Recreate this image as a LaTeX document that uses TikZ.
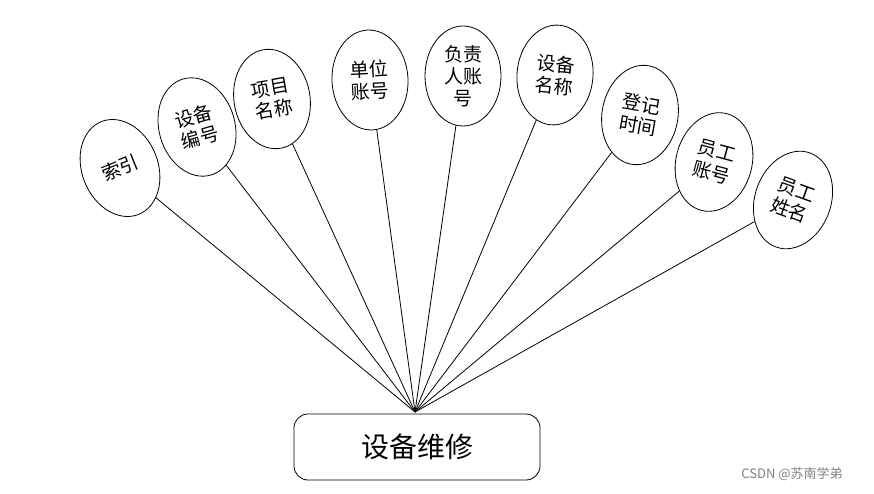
\documentclass[tikz,border=0pt]{standalone}
\usepackage{fontspec}
\newfontfamily\cjk{Noto Sans CJK SC}
\usetikzlibrary{shapes.geometric}
\tikzstyle{attr} = [draw, thick, ellipse, fill=white, minimum width=76pt, minimum height=100pt, inner sep=0pt, text width=44pt, align=center, font=\cjk\fontsize{19}{22}\selectfont]
\begin{document}
\begin{tikzpicture}[x=1pt, y=-1pt]
\useasboundingbox (0,0) rectangle (874,494);
\coordinate (hub) at (415,412);
\node[draw, thick, rounded corners=14pt, minimum width=246pt, minimum height=66pt, font=\cjk\fontsize{28}{30}\selectfont] (main) at (417,447) {设备维修};
\node[attr, rotate=22] (e1) at (120,168) {索引};
\node[attr, rotate=16] (e2) at (197,127) {设备\\编号};
\node[attr, rotate=10] (e3) at (272,99) {项目\\名称};
\node[attr, rotate=3] (e4) at (370,80) {单位\\账号};
\node[attr] (e5) at (463,76) {负责\\人账\\号};
\node[attr, rotate=-5] (e6) at (555,75) {设备\\名称};
\node[attr, rotate=-10] (e7) at (640,115) {登记\\时间};
\node[attr, rotate=-15] (e8) at (714,162) {员工\\账号};
\node[attr, rotate=-20] (e9) at (793,200) {员工\\姓名};
\foreach \i in {1,...,9}
  \draw[thick] (e\i) -- (hub);
\node[text=gray, font=\cjk\fontsize{13}{15}\selectfont] (mark) at (792,474) {CSDN @苏南学弟};
\end{tikzpicture}
\end{document}
